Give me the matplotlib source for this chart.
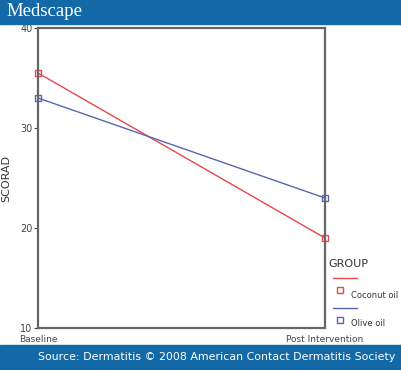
import matplotlib.pyplot as plt
from matplotlib.lines import Line2D

timepoints = ['Baseline', 'Post Intervention']
coconut = [35.5, 19.0]
olive = [33.0, 23.0]
groups = ['Coconut oil', 'Olive oil']
colors = ['#e8474c', '#5865b0']

W, H = 401, 370
fig = plt.figure(figsize=(W / 100, H / 100), dpi=100)
fig.patch.set_facecolor('white')

def fx(px):
    return px / W

def fy(py):
    return 1 - py / H

banner = '#1369a6'
fig.patches.append(plt.Rectangle((0, fy(24)), 1, 24 / H, transform=fig.transFigure,
                                 color=banner, zorder=0))
fig.patches.append(plt.Rectangle((0, 0), 1, 25 / H, transform=fig.transFigure,
                                 color=banner, zorder=0))
fig.text(fx(6), fy(12), 'Medscape', color='white', fontsize=13.5,
         family='Liberation Serif', va='center', ha='left')
fig.text(fx(217), fy(357), 'Source: Dermatitis \u00a9 2008 American Contact Dermatitis Society',
         color='white', fontsize=7.9, ha='center', va='center')

ax = fig.add_axes([fx(38), fy(328), fx(325) - fx(38), (328 - 28) / H])
x = [0, 1]
ax.plot(x, coconut, color=colors[0], lw=1.0, marker='s', ms=5,
        mfc='none', mec=colors[0], mew=1.0, clip_on=False)
ax.plot(x, olive, color=colors[1], lw=1.0, marker='s', ms=5,
        mfc='none', mec=colors[1], mew=1.0, clip_on=False)
ax.set_xlim(0, 1)
ax.set_ylim(10, 40)
ax.set_yticks([10, 20, 30, 40])
ax.set_xticks([])
ax.tick_params(axis='y', labelsize=7, colors='#444444', length=3, width=0.8, pad=1)
for s in ax.spines.values():
    s.set_color('#666666')
    s.set_linewidth(1.6)
ax.set_ylabel('SCORAD', fontsize=8, color='#333333', labelpad=6)

fig.text(fx(38), fy(339), timepoints[0], fontsize=6.5, color='#444444', ha='center', va='center')
fig.text(fx(325), fy(339), timepoints[1], fontsize=6.5, color='#444444', ha='center', va='center')

# legend
fig.text(fx(328), fy(264), 'GROUP', fontsize=8, color='#333333', va='center', ha='left')
fig.add_artist(Line2D([fx(333), fx(357)], [fy(278), fy(278)], color=colors[0], lw=1.0,
                      transform=fig.transFigure))
fig.add_artist(Line2D([fx(340)], [fy(290)], color=colors[0], marker='s', ms=4,
                      mfc='none', mec=colors[0], lw=0, transform=fig.transFigure))
fig.text(fx(351), fy(295), groups[0], fontsize=6, color='#333333', va='center', ha='left')
fig.add_artist(Line2D([fx(333), fx(357)], [fy(308), fy(308)], color=colors[1], lw=1.0,
                      transform=fig.transFigure))
fig.add_artist(Line2D([fx(340)], [fy(320)], color=colors[1], marker='s', ms=4,
                      mfc='none', mec=colors[1], lw=0, transform=fig.transFigure))
fig.text(fx(351), fy(324), groups[1], fontsize=6, color='#333333', va='center', ha='left')

fig.savefig('out.png', dpi=100)
